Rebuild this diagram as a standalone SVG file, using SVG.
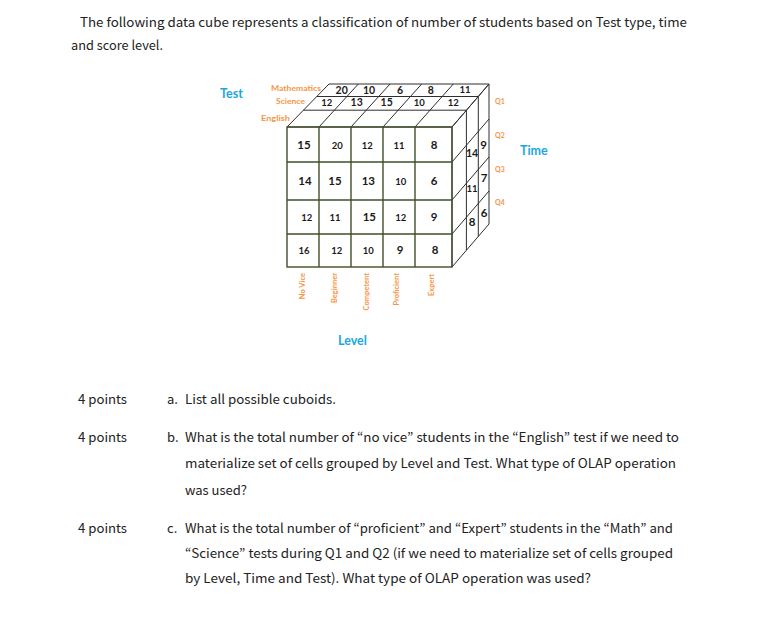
<svg xmlns="http://www.w3.org/2000/svg" width="757" height="636" viewBox="0 0 757 636">
<style>
.body{font-family:"Noto Sans CJK JP","Liberation Sans",sans-serif;font-size:13px;fill:#222}
.n{font-family:Lato,"Liberation Sans",sans-serif;font-weight:700;fill:#1a1a1a;text-anchor:middle}
.b{font-size:11.5px}
.s{font-size:9.5px}
.m{font-size:10.5px}
.lab{font-family:Lato,"Liberation Sans",sans-serif;font-weight:700;fill:#F79646}
.ax{font-family:Lato,"Liberation Sans",sans-serif;font-weight:700;fill:#1AA7E0;font-size:12.5px}
.ln{stroke:#2e2e2e;stroke-width:1;fill:none}
.fr{stroke:#3f4f2c;stroke-width:1.4;fill:none}
</style>
<rect width="757" height="636" fill="#fff"/>
<g id="intro">
<text class="body" x="80" y="27" textLength="607" lengthAdjust="spacingAndGlyphs">The following data cube represents a classification of number of students based on Test type, time</text>
<text class="body" x="71" y="50" textLength="92" lengthAdjust="spacingAndGlyphs">and score level.</text>
</g>
<g id="cube">
<g id="top-face">
<polygon points="287,127 452,127 489,84 329,84" fill="#fff" class="ln"/>
<line class="ln" x1="319" y1="127" x2="358.3" y2="84"/>
<line class="ln" x1="351" y1="127" x2="390" y2="84"/>
<line class="ln" x1="383" y1="127" x2="421.7" y2="84"/>
<line class="ln" x1="415" y1="127" x2="453.3" y2="84"/>
<line class="ln" x1="303.4" y1="110.2" x2="466.4" y2="110.2"/>
<line class="ln" x1="316.8" y1="96.5" x2="478.3" y2="96.5"/>
<text class="n m" x="341.7" y="93.8">20</text>
<text class="n m" x="369" y="93.5">10</text>
<text class="n m" x="400" y="93.5">6</text>
<text class="n m" x="430.7" y="93.5">8</text>
<text class="n s" x="465" y="93">11</text>
<text class="n s" x="326.7" y="106">12</text>
<text class="n m" x="356.7" y="106">13</text>
<text class="n m" x="386.7" y="106">15</text>
<text class="n s" x="419.3" y="106">10</text>
<text class="n s" x="453.3" y="106">12</text>
</g>
<g id="side-face">
<polygon points="452,127 489,84 489,224 452,267" fill="#fff" class="ln"/>
<line class="ln" x1="466.4" y1="110.2" x2="466.4" y2="250.2"/>
<line class="ln" x1="478.3" y1="96.5" x2="478.3" y2="236.5"/>
<line class="ln" x1="452" y1="162" x2="489" y2="119"/>
<line class="ln" x1="452" y1="200" x2="489" y2="157"/>
<line class="ln" x1="452" y1="234" x2="489" y2="191"/>
<text class="n m" x="472" y="157">14</text>
<text class="n b" x="483.5" y="149">9</text>
<text class="n s" x="472" y="191.5">11</text>
<text class="n b" x="484" y="182">7</text>
<text class="n b" x="472" y="226">8</text>
<text class="n b" x="484" y="217">6</text>
</g>
<g id="front-face">
<rect x="287" y="127" width="165" height="140" fill="#fff" class="fr"/>
<line class="fr" x1="319" y1="127" x2="319" y2="267"/>
<line class="fr" x1="351" y1="127" x2="351" y2="267"/>
<line class="fr" x1="383" y1="127" x2="383" y2="267"/>
<line class="fr" x1="415" y1="127" x2="415" y2="267"/>
<line class="fr" x1="287" y1="162" x2="452" y2="162"/>
<line class="fr" x1="287" y1="200" x2="452" y2="200"/>
<line class="fr" x1="287" y1="234" x2="452" y2="234"/>
<text class="n b" x="304" y="149">15</text>
<text class="n s" x="337.3" y="148.5">20</text>
<text class="n s" x="367.3" y="148.5">12</text>
<text class="n s" x="399" y="148.5">11</text>
<text class="n b" x="434" y="149">8</text>
<text class="n b" x="305" y="185">14</text>
<text class="n b" x="335" y="185">15</text>
<text class="n b" x="368.3" y="184.5">13</text>
<text class="n s" x="400.7" y="184.5">10</text>
<text class="n b" x="434" y="185">6</text>
<text class="n s" x="306.7" y="220.5">12</text>
<text class="n s" x="335" y="220.5">11</text>
<text class="n b" x="369.3" y="221">15</text>
<text class="n s" x="400.7" y="220.5">12</text>
<text class="n b" x="434" y="221">9</text>
<text class="n s" x="304" y="253.5">16</text>
<text class="n s" x="336.7" y="253.5">12</text>
<text class="n s" x="368.3" y="253.5">10</text>
<text class="n b" x="400" y="254">9</text>
<text class="n b" x="435" y="254">8</text>
</g>
</g>
<g id="test-axis">
<text class="ax" x="220" y="97.5">Test</text>
<text class="lab" x="321" y="90.5" font-size="7.5" text-anchor="end" textLength="50" lengthAdjust="spacingAndGlyphs">Mathematics</text>
<text class="lab" x="305" y="103.5" font-size="7.5" text-anchor="end" textLength="29" lengthAdjust="spacingAndGlyphs">Science</text>
<text class="lab" x="290" y="121" font-size="7.5" text-anchor="end" textLength="29" lengthAdjust="spacingAndGlyphs">English</text>
</g>
<g id="time-axis">
<text class="ax" x="520" y="154.5">Time</text>
<text class="lab" x="495" y="104" font-size="7">Q1</text>
<text class="lab" x="495" y="137.5" font-size="7">Q2</text>
<text class="lab" x="495" y="171.5" font-size="7">Q3</text>
<text class="lab" x="495" y="205" font-size="7">Q4</text>
</g>
<g id="level-axis">
<text class="lab" font-size="7.5" text-anchor="end" transform="translate(305.2,273) rotate(-90)">No Vice</text>
<text class="lab" font-size="7.5" text-anchor="end" transform="translate(336.8,273) rotate(-90)">Beginner</text>
<text class="lab" font-size="7.5" text-anchor="end" transform="translate(368.5,273) rotate(-90)">Competent</text>
<text class="lab" font-size="7.5" text-anchor="end" transform="translate(399.2,273) rotate(-90)">Proficient</text>
<text class="lab" font-size="7.5" text-anchor="end" transform="translate(434.2,274) rotate(-90)">Expert</text>
<text class="ax" x="338" y="344.5">Level</text>
</g>
<g id="questions">
<text class="body" x="78" y="404" textLength="49" lengthAdjust="spacingAndGlyphs">4 points</text>
<text class="body" x="167" y="404">a.</text>
<text class="body" x="185" y="404" textLength="151" lengthAdjust="spacingAndGlyphs">List all possible cuboids.</text>
<text class="body" x="78" y="442" textLength="49" lengthAdjust="spacingAndGlyphs">4 points</text>
<text class="body" x="167" y="442">b.</text>
<text class="body" x="185" y="442" textLength="494" lengthAdjust="spacingAndGlyphs">What is the total number of “no vice” students in the “English” test if we need to</text>
<text class="body" x="185" y="468" textLength="491" lengthAdjust="spacingAndGlyphs">materialize set of cells grouped by Level and Test. What type of OLAP operation</text>
<text class="body" x="185" y="495" textLength="62" lengthAdjust="spacingAndGlyphs">was used?</text>
<text class="body" x="78" y="533" textLength="49" lengthAdjust="spacingAndGlyphs">4 points</text>
<text class="body" x="167" y="533">c.</text>
<text class="body" x="185" y="533" textLength="488" lengthAdjust="spacingAndGlyphs">What is the total number of “proficient” and “Expert” students in the “Math” and</text>
<text class="body" x="185" y="558" textLength="488" lengthAdjust="spacingAndGlyphs">“Science” tests during Q1 and Q2 (if we need to materialize set of cells grouped</text>
<text class="body" x="185" y="583" textLength="406" lengthAdjust="spacingAndGlyphs">by Level, Time and Test). What type of OLAP operation was used?</text>
</g>
</svg>
